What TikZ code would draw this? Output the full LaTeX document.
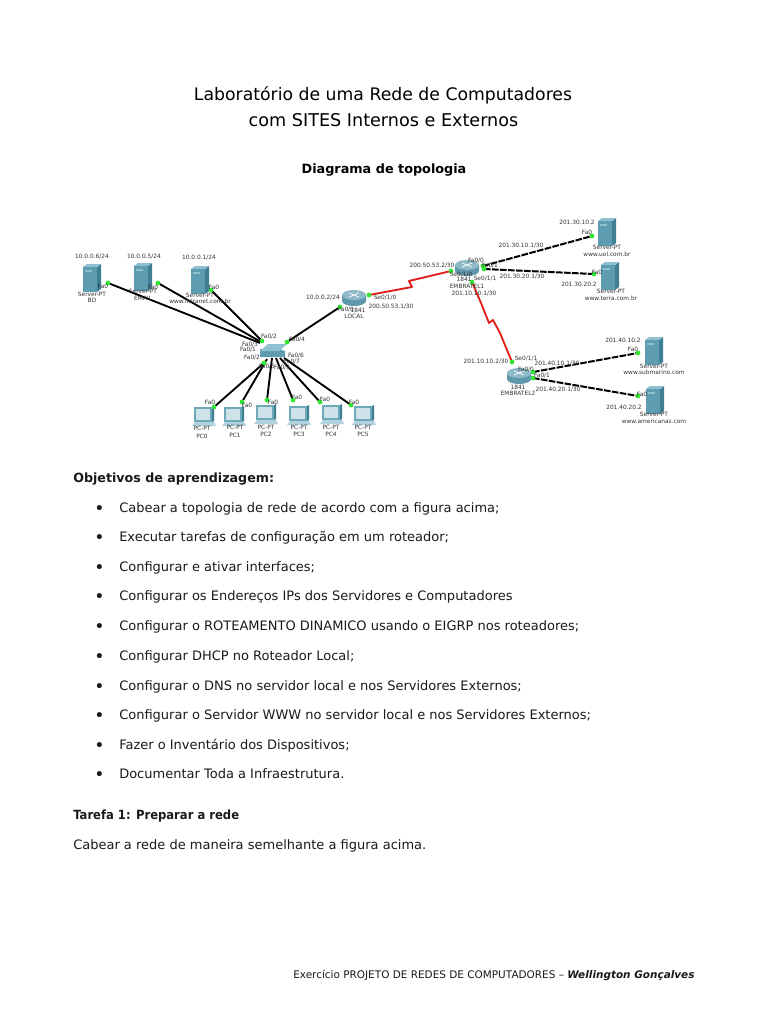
\documentclass[tikz,border=0pt]{standalone}
\usepackage{fontspec}
\setmainfont{DejaVu Sans}
\usetikzlibrary{calc}
\definecolor{srvfront}{HTML}{5E9DB1}
\definecolor{srvside}{HTML}{3F7F94}
\definecolor{srvtop}{HTML}{8FC0CF}
\definecolor{rtop}{HTML}{8DB9C8}
\definecolor{rbody}{HTML}{5F97AB}
\definecolor{pcframe}{HTML}{6FA8B9}
\definecolor{portgreen}{HTML}{33E633}
\definecolor{linkred}{HTML}{E0201C}
\definecolor{lblgray}{HTML}{333333}
\definecolor{txt}{HTML}{1A1A1A}
\newcounter{nn}
\tikzset{
  lbl/.style={font=\fontsize{4.4}{5}\selectfont,text=lblgray,inner sep=0pt,anchor=center},
  body/.style={font=\fontsize{9.75}{11}\selectfont,text=txt,inner sep=0pt,anchor=base west},
  bodyb/.style={font=\fontsize{9.5}{11}\selectfont\bfseries,text=txt,inner sep=0pt,anchor=base west},
  bul/.style={font=\fontsize{13}{13}\selectfont,text=txt,inner sep=0pt,anchor=base west},
  titletx/.style={font=\fontsize{12.95}{15}\selectfont,text=black,inner sep=0pt,anchor=base},
  cable/.style={black,line width=1.4pt},
  dashcable/.style={black,line width=1.5pt,dash pattern=on 5pt off 1pt},
  redcable/.style={linkred,line width=1.4pt,line join=round},
  devbox/.style={inner sep=0pt,minimum size=0pt,draw=none}
}
\newcommand{\lb}[3]{\stepcounter{nn}\node[lbl] (lb\thenn) at (#1,#2) {#3};}
\newcommand{\bodyline}[3]{\stepcounter{nn}\node[body] (tx\thenn) at (#1,#2) {#3};}
\newcommand{\bulletline}[2]{\stepcounter{nn}\node[bul] (bu\thenn) at (94,#1+2) {•};\node[body] (tx\thenn) at (119,#1) {#2};}
% server: name, x, y of front top-left
\newcommand{\serverdev}[3]{%
  \fill[srvside] (#2+14,#3) -- (#2+18,#3-3) -- (#2+18,#3+22) -- (#2+14,#3+25) -- cycle;
  \fill[srvtop] (#2,#3) -- (#2+4,#3-3) -- (#2+18,#3-3) -- (#2+14,#3) -- cycle;
  \node[devbox,fill=srvfront,minimum width=10.5pt,minimum height=18.75pt,anchor=north west] (#1) at (#2,#3) {};
  \fill[srvtop] (#2+2,#3+3) rectangle (#2+9,#3+5);
}
% router: name, centre x, y
\newcommand{\routerdev}[3]{%
  \fill[rbody] (#2-12,#3-3) -- (#2-12,#3+3) arc[start angle=180,end angle=0,x radius=12,y radius=5] -- (#2+12,#3-3) -- cycle;
  \fill[rtop] (#2,#3-3) ellipse[x radius=12,y radius=5];
  \draw[white,line width=.5pt] (#2-5,#3-5) -- (#2+5,#3-1) (#2-5,#3-1) -- (#2+5,#3-5);
  \coordinate (#1) at (#2,#3);
}
% pc: name, centre x, y of monitor
\newcommand{\pcdev}[3]{%
  \fill[pcframe] (#2-9,#3-9) rectangle (#2+9,#3+6);
  \fill[srvside] (#2+9,#3-9) -- (#2+11,#3-10) -- (#2+11,#3+5) -- (#2+9,#3+6) -- cycle;
  \node[devbox,fill=srvtop!45!white,minimum width=10.5pt,minimum height=8.2pt] (#1) at (#2,#3-1.5) {};
  \fill[srvtop!70!white] (#2-11,#3+10) -- (#2-8,#3+6) -- (#2+11,#3+6) -- (#2+13,#3+10) -- cycle;
}
\begin{document}
\begin{tikzpicture}[x=0.75pt,y=-0.75pt]
\useasboundingbox (0,0) rectangle (768,1024);
\fill[white] (0,0) rectangle (768,1024);

% ---- page titles
\node[titletx] (title1) at (383,100) {Laboratório de uma Rede de Computadores};
\node[titletx,font=\fontsize{13.2}{15}\selectfont] (title2) at (383.5,127) {com SITES Internos e Externos};
\node[titletx,font=\fontsize{9.6}{11}\selectfont\bfseries] (title3) at (384,173.5) {Diagrama de topologia};

% ---- ports
\coordinate (pBD) at (108,283);
\coordinate (pEM) at (158,283);
\coordinate (pIN) at (211,290);
\coordinate (sUp) at (262,341);
\coordinate (sUq) at (261,342);
\coordinate (sUr) at (260,343);
\coordinate (sRt) at (287,342);
\coordinate (s0) at (264,363);
\coordinate (s1) at (267,359);
\coordinate (s2) at (272,358);
\coordinate (s3) at (276,358);
\coordinate (s4) at (280,358);
\coordinate (s5) at (284,358);
\coordinate (pPC0) at (214,407);
\coordinate (pPC1) at (242,402);
\coordinate (pPC2) at (267,400);
\coordinate (pPC3) at (293,400);
\coordinate (pPC4) at (320,402);
\coordinate (pPC5) at (351,405);
\coordinate (rLa) at (340,307);
\coordinate (rLb) at (369,295);
\coordinate (e1a) at (451,271);
\coordinate (e1b) at (472,282);
\coordinate (e1c) at (483,266);
\coordinate (e1d) at (484,269);
\coordinate (e2a) at (512,362);
\coordinate (e2b) at (533,372);
\coordinate (e2c) at (533,378);
\coordinate (pUOL) at (592,236);
\coordinate (pTER) at (594,274);
\coordinate (pSUB) at (638,353);
\coordinate (pAME) at (638,396);
\coordinate (j1) at (412,287);
\coordinate (j2) at (409,281);
\coordinate (j3) at (481,303);
\coordinate (j4) at (489,323);
\coordinate (j5) at (493,320);
\coordinate (j6) at (500,333);

% ---- connectors
\draw[cable] (pBD) -- (sUr);
\draw[cable] (pEM) -- (sUq);
\draw[cable] (pIN) -- (sUp);
\draw[cable] (sRt) -- (rLa);
\draw[cable] (s0) -- (pPC0);
\draw[cable] (s1) -- (pPC1);
\draw[cable] (s2) -- (pPC2);
\draw[cable] (s3) -- (pPC3);
\draw[cable] (s4) -- (pPC4);
\draw[cable] (s5) -- (pPC5);
\draw[redcable] (rLb) -- (j1) -- (j2) -- (e1a);
\draw[redcable] (e1b) -- (j3) -- (j4) -- (j5) -- (j6) -- (e2a);
\draw[dashcable] (e1c) -- (pUOL);
\draw[dashcable] (e1d) -- (pTER);
\draw[dashcable] (e2b) -- (pSUB);
\draw[dashcable] (e2c) -- (pAME);

% ---- devices
\serverdev{srvBD}{83}{267}
\serverdev{srvEM}{134}{266}
\serverdev{srvIN}{191}{269}
\serverdev{srvUOL}{598}{221}
\serverdev{srvTER}{601}{265}
\serverdev{srvSUB}{645}{340}
\serverdev{srvAME}{646}{389}
% switch
\fill[srvfront] (260,349) -- (279,349) -- (285,351) -- (285,357) -- (260,357) -- cycle;
\fill[srvtop] (260,351) -- (268,344) -- (287,344) -- (279,351) -- cycle;
\node[devbox,minimum width=18pt,minimum height=8pt] (sw) at (273,351) {};
\routerdev{rLOCAL}{354}{298}
\routerdev{rEMB1}{467}{268}
\routerdev{rEMB2}{519}{376}
\pcdev{pc0}{203}{416}
\pcdev{pc1}{233}{416}
\pcdev{pc2}{265}{414}
\pcdev{pc3}{298}{415}
\pcdev{pc4}{331}{414}
\pcdev{pc5}{363}{415}

% ---- port markers
\foreach \p in {pBD,pEM,pIN,sUp,sRt,s0,pPC0,pPC1,pPC2,pPC3,pPC4,pPC5,rLa,rLb,e1a,e1b,e1c,e1d,e2a,e2b,e2c,pUOL,pTER,pSUB,pAME}
  \fill[portgreen] (\p) circle[radius=2.4];

% ---- device labels
\lb{92}{257}{10.0.0.6/24}\lb{144}{257}{10.0.0.5/24}\lb{199}{258}{10.0.0.1/24}
\lb{92}{294}{Server-PT}\lb{92}{300}{BD}
\lb{143}{291}{Server-PT}\lb{143}{298}{EMAIL}
\lb{200}{295}{Server-PT}\lb{200}{301}{www.intranet.com.br}
\lb{103}{286}{Fa0}\lb{153}{287}{Fa0}\lb{214}{287}{Fa0}
\lb{269}{337}{Fa0/2}\lb{297}{340}{Fa0/4}
\lb{250}{345}{Fa0/3}\lb{248}{350}{Fa0/1}
\lb{252}{358}{Fa0/2}\lb{267}{367}{Fa0/5}\lb{282}{368}{Fa0/3}\lb{296}{356}{Fa0/6}\lb{292}{362}{Fa0/7}
\lb{210}{402}{Fa0}\lb{247}{405}{Fa0}\lb{273}{402}{Fa0}\lb{297}{397}{Fa0}\lb{325}{399}{Fa0}\lb{354}{402}{Fa0}
\lb{202}{428}{PC-PT}\lb{202}{436}{PC0}
\lb{235}{427}{PC-PT}\lb{235}{435}{PC1}
\lb{266}{427}{PC-PT}\lb{266}{434}{PC2}
\lb{299}{427}{PC-PT}\lb{299}{434}{PC3}
\lb{331}{427}{PC-PT}\lb{331}{434}{PC4}
\lb{363}{427}{PC-PT}\lb{363}{434}{PC5}
\lb{323}{298}{10.0.0.2/24}\lb{346}{310}{Fa0/0}\lb{358}{310}{1841}\lb{354}{316}{LOCAL}
\lb{385}{298}{Se0/1/0}\lb{391}{307}{200.50.53.1/30}
\lb{432}{266}{200.50.53.2/30}\lb{476}{261}{Fa0/0}\lb{490}{266}{Fa0/1}
\lb{461}{275}{Se0/1/0}\lb{464}{279}{1841}\lb{485}{279}{Se0/1/1}
\lb{467}{286}{EMBRATEL1}\lb{474}{294}{201.10.10.1/30}
\lb{577}{222}{201.30.10.2}\lb{587}{232}{Fa0}\lb{521}{246}{201.30.10.1/30}
\lb{522}{277}{201.30.20.1/30}\lb{597}{272}{Fa0}\lb{579}{284}{201.30.20.2}
\lb{607}{247}{Server-PT}\lb{607}{254}{www.uol.com.br}
\lb{611}{291}{Server-PT}\lb{611}{298}{www.terra.com.br}
\lb{486}{362}{201.10.10.2/30}\lb{526}{359}{Se0/1/1}\lb{526}{370}{Fa0/0}
\lb{557}{364}{201.40.10.1/30}\lb{542}{376}{Fa0/1}\lb{558}{390}{201.40.20.1/30}
\lb{518}{387}{1841}\lb{518}{393}{EMBRATEL2}
\lb{623}{340}{201.40.10.2}\lb{633}{349}{Fa0}\lb{654}{366}{Server-PT}\lb{654}{372}{www.submarino.com}
\lb{624}{407}{201.40.20.2}\lb{642}{394}{Fa0}\lb{654}{414}{Server-PT}\lb{654}{421}{www.americanas.com}

% ---- body text
\stepcounter{nn}\node[bodyb] (obj) at (73,482) {Objetivos de aprendizagem:};
\bulletline{512}{Cabear a topologia de rede de acordo com a figura acima;}
\bulletline{541}{Executar tarefas de configuração em um roteador;}
\bulletline{571}{Configurar e ativar interfaces;}
\bulletline{600}{Configurar os Endereços IPs dos Servidores e Computadores}
\bulletline{630}{Configurar o ROTEAMENTO DINAMICO usando o EIGRP nos roteadores;}
\bulletline{660}{Configurar DHCP no Roteador Local;}
\bulletline{690}{Configurar o DNS no servidor local e nos Servidores Externos;}
\bulletline{719}{Configurar o Servidor WWW no servidor local e nos Servidores Externos;}
\bulletline{749}{Fazer o Inventário dos Dispositivos;}
\bulletline{778}{Documentar Toda a Infraestrutura.}
\node[bodyb] (tar) at (73,819.5) {\scalebox{0.915}[1]{Tarefa 1: Preparar a rede}};
\bodyline{73}{849}{Cabear a rede de maneira semelhante a figura acima.}
\node[body,font=\fontsize{7.85}{9}\selectfont] (foot) at (293,978) {Exercício PROJETO DE REDES DE COMPUTADORES – \textbf{\itshape Wellington Gonçalves}};
\end{tikzpicture}
\end{document}
